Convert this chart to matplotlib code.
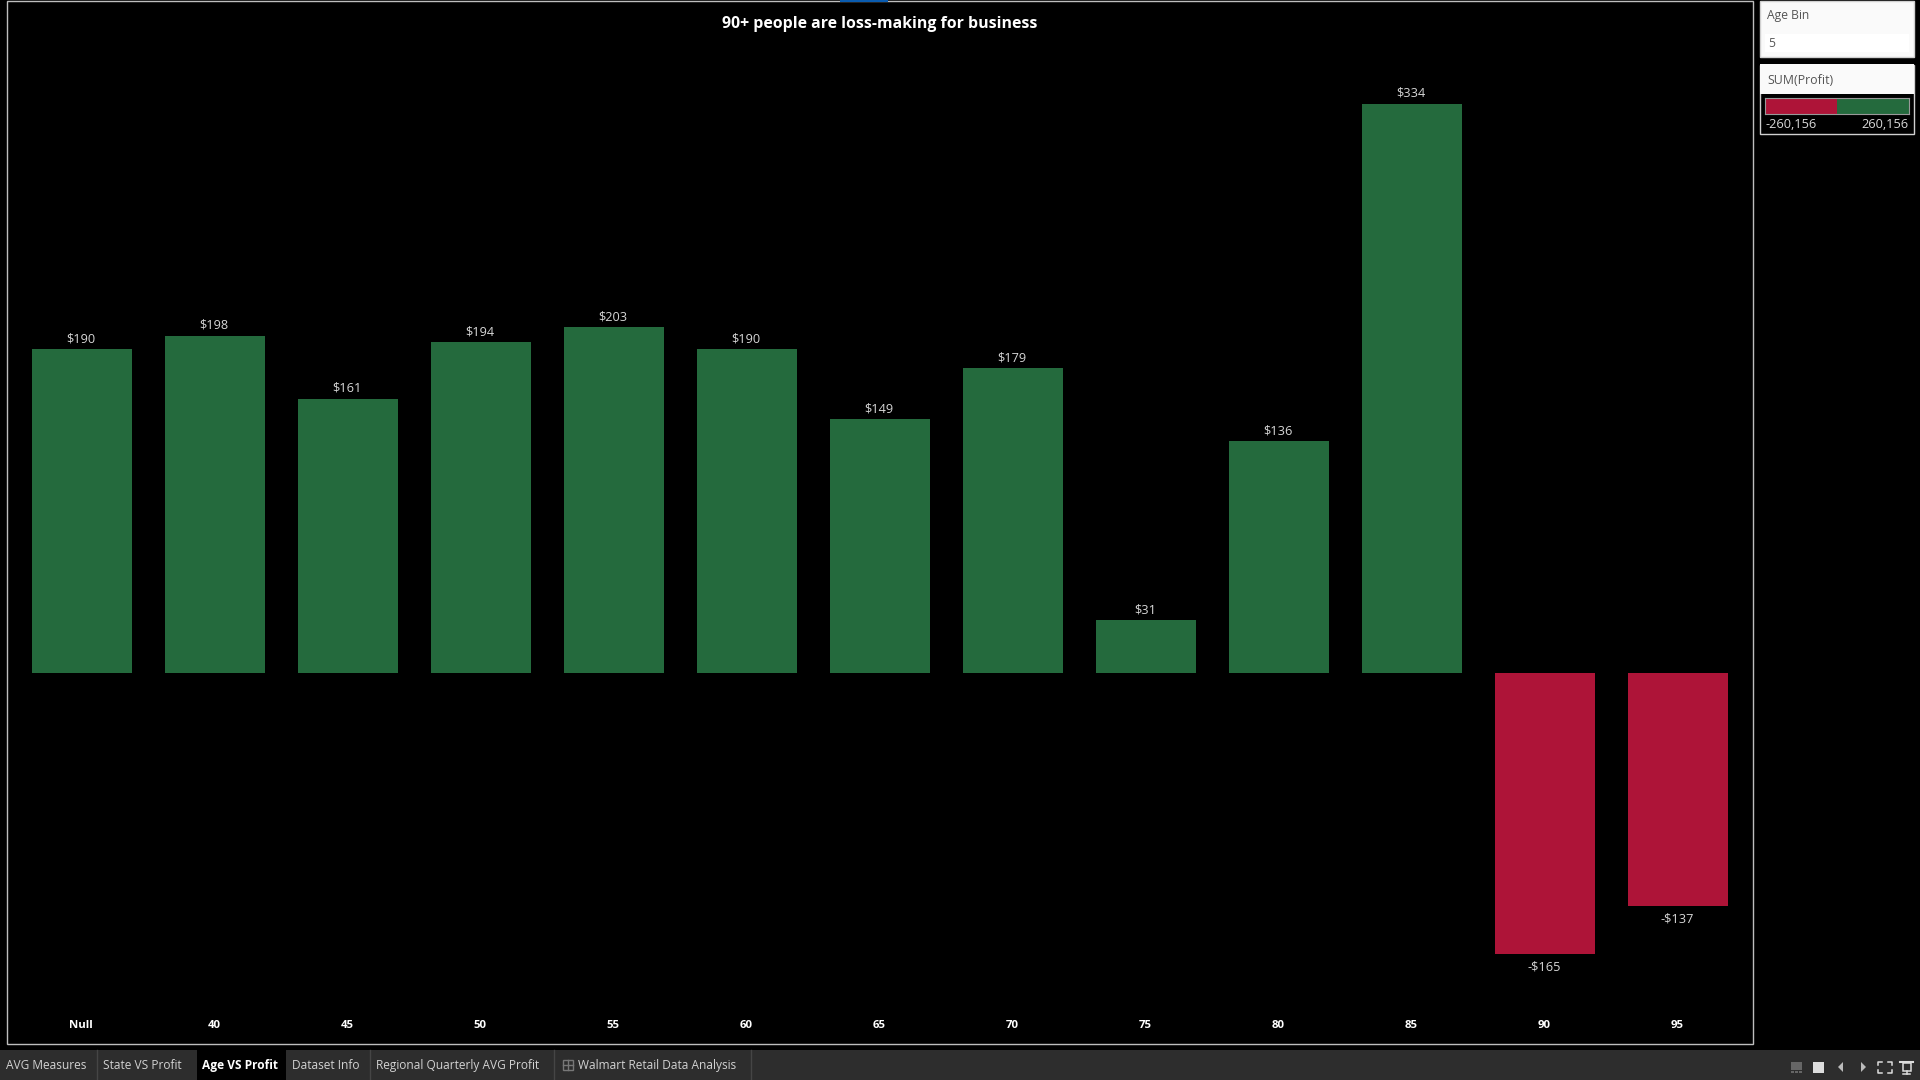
import matplotlib
matplotlib.use('Agg')
import matplotlib.pyplot as plt
from matplotlib.patches import Rectangle, Polygon
from matplotlib.transforms import ScaledTranslation

plt.rcParams['font.family'] = ['Open Sans', 'DejaVu Sans']

# Datos
age_bins = ['Null', '40', '45', '50', '55', '60', '65', '70', '75', '80', '85', '90', '95']
avg_profit = [190, 198, 161, 194, 203, 190, 149, 179, 31, 136, 334, -165, -137]
titulo = '90+ people are loss-making for business'
legend_range = [-260156, 260156]
tabs = ['AVG Measures', 'State VS Profit', 'Age VS Profit', 'Dataset Info',
        'Regional Quarterly AVG Profit', 'Walmart Retail Data Analysis']

GREEN = '#246A3D'
RED = '#AE1438'
W, H = 1920, 1080

fig = plt.figure(figsize=(19.2, 10.8), dpi=100, facecolor='black')

# Capa de fondo en pixeles (marco, paneles, pestanas)
bg = fig.add_axes([0, 0, 1, 1], zorder=0)
bg.set_xlim(0, W)
bg.set_ylim(H, 0)
bg.axis('off')


def caja(x0, y0, x1, y1, fc='none', ec='none', lw=1.0):
    bg.add_patch(Rectangle((x0, y0), x1 - x0, y1 - y0, fc=fc, ec=ec, lw=lw))


# Marco del grafico
caja(6.5, 0.5, 1752.5, 1043.5, ec='#BEBEBE', lw=1.0)
caja(840, 0, 888, 2, fc='#0A5CB0')

# Panel Age Bin
caja(1760, 0.5, 1913.5, 57, fc='#FAFAFA', ec='#D0D0D0')
caja(1765, 34, 1909, 52, fc='white')
bg.text(1767, 16, 'Age Bin', color='#555555', fontsize=8.7, va='center')
bg.text(1768, 43.5, '5', color='#555555', fontsize=8.7, va='center')

# Panel SUM(Profit)
caja(1760, 64.5, 1913.5, 134, fc='black', ec='#D0D0D0')
caja(1760, 64, 1914, 94, fc='#FAFAFA')
bg.text(1767, 80, 'SUM(Profit)', color='#555555', fontsize=8.9, va='center')
bg.text(1765, 124, f'{legend_range[0]:,}', color='#D8D8D8', fontsize=9.2, va='center')
bg.text(1908, 124, f'{legend_range[1]:,}', color='#D8D8D8', fontsize=9.2, va='center', ha='right')

# Barra de pestanas
caja(0, 1050, W, H, fc='#2D2D2D')
caja(197, 1050, 286, H, fc='black')
for xs in [97, 370, 554, 751]:
    bg.plot([xs, xs], [1050, H], color='#454545', lw=1)
tab_x = [6, 103, 202, 292, 376, 578]
for i, t in enumerate(tabs):
    activo = t == 'Age VS Profit'
    bg.text(tab_x[i], 1065.5, t, color='white' if activo else '#D2D2D2', fontsize=8.55,
            fontweight='bold' if activo else 'normal', va='center')

# Icono de la pestana del dashboard
caja(562.5, 1059.5, 572.5, 1069.5, ec='#777777')
bg.plot([567.5, 567.5], [1059.5, 1069.5], color='#777777', lw=1)
bg.plot([562.5, 572.5], [1064.5, 1064.5], color='#777777', lw=1)

# Iconos de la derecha
caja(1791, 1062, 1802, 1070, fc='#666666')
for xs in [1791, 1795, 1799]:
    caja(xs, 1071, xs + 3, 1073, fc='#666666')
caja(1813, 1062, 1824, 1073, fc='#DDDDDD')
bg.add_patch(Polygon([(1843, 1062), (1843, 1072), (1838, 1067)], fc='#BBBBBB'))
bg.add_patch(Polygon([(1861, 1062), (1861, 1072), (1866, 1067)], fc='#BBBBBB'))
for x0, y0, dx, dy in [(1878, 1062, 1, 1), (1892, 1062, -1, 1), (1878, 1073, 1, -1), (1892, 1073, -1, -1)]:
    bg.plot([x0 + 4 * dx, x0, x0], [y0, y0, y0 + 3 * dy], color='#DDDDDD', lw=1.1)
bg.plot([1900, 1913], [1062, 1062], color='#DDDDDD', lw=1.5)
caja(1902.5, 1063, 1910.5, 1071, ec='#DDDDDD', lw=1.1)
bg.plot([1906.5, 1906.5], [1071, 1074], color='#DDDDDD', lw=1.1)
bg.plot([1903, 1910], [1074, 1074], color='#DDDDDD', lw=1.1)

# Grafico de barras
left, right, top, bottom = 6, 1753, 0, 1043
ax = fig.add_axes([left / W, 1 - bottom / H, (right - left) / W, (bottom - top) / H], zorder=1)
ax.patch.set_alpha(0)
px_por_dolar = 1.704
x_pos = list(range(len(age_bins)))
ax.set_xlim((left - 82) / 133, (right - 82) / 133)
ax.set_ylim((673 - bottom) / px_por_dolar, (673 - top) / px_por_dolar)

colores = [GREEN if v >= 0 else RED for v in avg_profit]
ax.bar(x_pos, avg_profit, width=100 / 133, color=colores)

for x, v in zip(x_pos, avg_profit):
    texto = f'${v}' if v >= 0 else f'-${abs(v)}'
    ax.annotate(texto, (x, v), xytext=(-0.5, 7.5 if v >= 0 else -9), textcoords='offset points',
                ha='center', va='center', color='#D6D6D6', fontsize=9.2)

ax.set_xticks(x_pos)
ax.set_xticklabels(age_bins, color='white', fontsize=8.2, fontweight='bold')
ax.tick_params(axis='x', length=0, pad=-16.5)
# Las etiquetas del eje van 1 px a la izquierda del centro de la barra
for lab in ax.get_xticklabels():
    lab.set_transform(lab.get_transform() + ScaledTranslation(-1 / 100, 0, fig.dpi_scale_trans))
ax.set_yticks([])
for s in ax.spines.values():
    s.set_visible(False)

ax.text(0.5, 1 - 24 / 1043, titulo, transform=ax.transAxes, ha='center', va='center',
        color='white', fontsize=11.4, fontweight='bold')

# Leyenda de color (rango de profit)
ley = fig.add_axes([1765 / W, 1 - 114 / H, 144 / W, 16 / H], zorder=2)
ley.barh(0, legend_range[0], height=1, color=RED)
ley.barh(0, legend_range[1], height=1, color=GREEN)
ley.set_xlim(legend_range)
ley.set_ylim(-0.5, 0.5)
ley.set_xticks([])
ley.set_yticks([])
for s in ley.spines.values():
    s.set_color('#999999')

fig.savefig('out.png', dpi=100, facecolor='black')
